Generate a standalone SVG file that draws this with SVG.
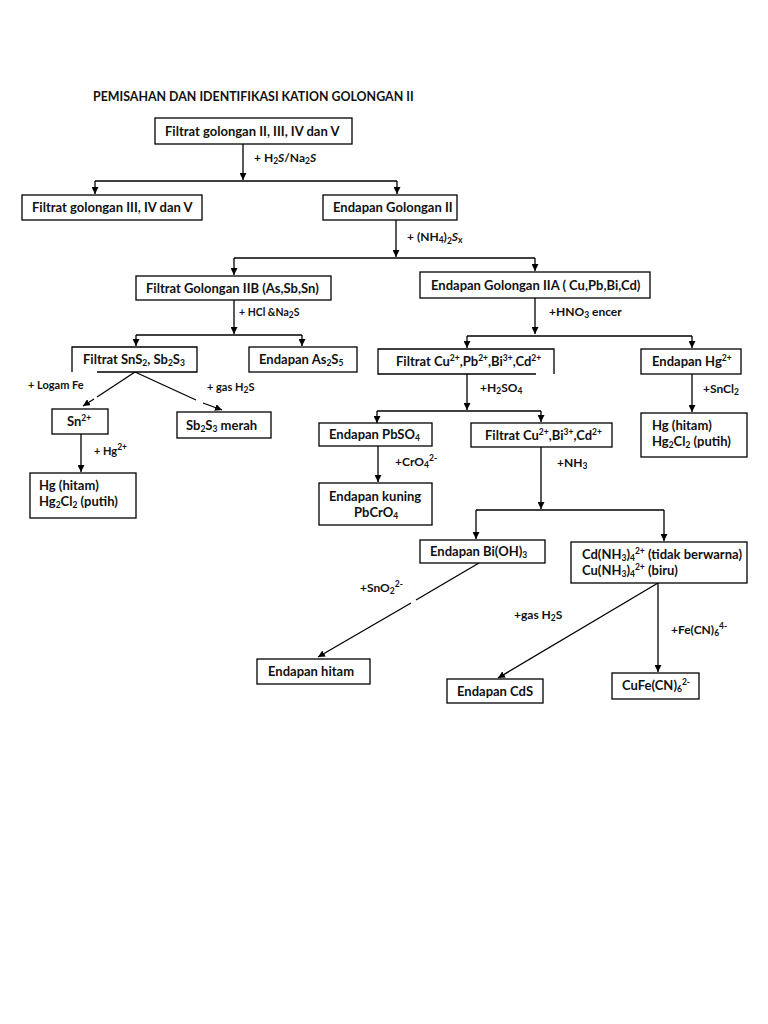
<svg xmlns="http://www.w3.org/2000/svg" width="768" height="1024" viewBox="0 0 768 1024">
<defs>
<marker id="ah" viewBox="0 0 10 10" refX="10" refY="5" markerWidth="7" markerHeight="7" markerUnits="userSpaceOnUse" orient="auto">
<path d="M0,0 L10,5 L0,10 z" fill="#000"/>
</marker>
<style>
.bx{fill:#fff;stroke:#000;stroke-width:1.3}
.ln{fill:none;stroke:#000;stroke-width:1.3}
.ar{fill:none;stroke:#000;stroke-width:1.3;marker-end:url(#ah)}
text{font-family:Lato,"Open Sans","Liberation Sans",sans-serif;font-size:13px;font-weight:bold;fill:#111}
.t{font-size:12.4px}
.l{font-size:12px}
.s{font-size:11px}
.xs{font-size:10.5px}
.sb{font-size:8.5px}
.it{font-style:italic}
</style>
</defs>
<rect width="768" height="1024" fill="#fff"/>
<text id="title" x="93" y="101" class="t">PEMISAHAN DAN IDENTIFIKASI KATION GOLONGAN II</text>

<g id="connectors">
<path class="ar" d="M243,144 V180"/>
<path class="ln" d="M95,181 H397"/>
<path class="ar" d="M95,181 V194"/>
<path class="ar" d="M397,181 V194"/>
<path class="ar" d="M396,220 V257"/>
<path class="ln" d="M234,258 H535"/>
<path class="ar" d="M234,258 V275"/>
<path class="ar" d="M535,258 V271"/>
<path class="ar" d="M234,300 V334"/>
<path class="ln" d="M136,335 H302"/>
<path class="ar" d="M136,335 V346"/>
<path class="ar" d="M302,335 V346"/>
<path class="ar" d="M535,298 V334"/>
<path class="ln" d="M467,336 H692"/>
<path class="ar" d="M467,336 V348"/>
<path class="ar" d="M692,336 V348"/>
<path class="ln" d="M135,372 L97,397"/>
<path class="ar" d="M94,399 L83,406"/>
<path class="ln" d="M135,372 L196,400"/>
<path class="ar" d="M203,403 L222,410"/>
<path class="ar" d="M81,434 V472"/>
<path class="ar" d="M467,374 V410"/>
<path class="ln" d="M377,411 H541"/>
<path class="ar" d="M377,411 V423"/>
<path class="ar" d="M541,411 V422"/>
<path class="ar" d="M692,374 V412"/>
<path class="ar" d="M378,446 V482"/>
<path class="ar" d="M541,447 V509"/>
<path class="ln" d="M476,510 H664"/>
<path class="ar" d="M476,510 V539"/>
<path class="ar" d="M664,510 V541"/>
<path class="ln" d="M479,563 L416,600"/>
<path class="ar" d="M411,603 L318,657"/>
<path class="ar" d="M658,583 L498,678"/>
<path class="ar" d="M658,583 V672"/>
</g>

<g id="n1"><rect class="bx" x="155" y="118" width="197" height="26"/><text x="165" y="135.5">Filtrat golongan II, III, IV dan V</text></g>
<g id="l1"><text x="254" y="162" class="l">+ H<tspan class="sb" baseline-shift="-2">2</tspan><tspan class="it">S</tspan>/Na<tspan class="sb" baseline-shift="-2">2</tspan><tspan class="it">S</tspan></text></g>
<g id="n2"><rect class="bx" x="22" y="195" width="180" height="25"/><text x="32" y="212">Filtrat golongan III, IV dan V</text></g>
<g id="n3"><rect class="bx" x="323" y="195" width="134" height="25"/><text x="333" y="212">Endapan Golongan II</text></g>
<g id="l2"><text x="407" y="241" class="l">+ (NH<tspan class="sb" baseline-shift="-2">4</tspan>)<tspan class="sb" baseline-shift="-3">2</tspan><tspan class="it">S</tspan><tspan class="sb" baseline-shift="-2">x</tspan></text></g>
<g id="n4"><rect class="bx" x="136" y="276" width="195" height="24"/><text x="146" y="292.5">Filtrat Golongan IIB (As,Sb,Sn)</text></g>
<g id="n5"><rect class="bx" x="420" y="272" width="230" height="26"/><text x="431" y="289.5">Endapan Golongan IIA ( Cu,Pb,Bi,Cd)</text></g>
<g id="l3"><text x="239" y="316" class="xs">+ HCl &amp;Na<tspan class="sb" baseline-shift="-2">2</tspan>S</text></g>
<g id="l4"><text x="549" y="316" class="l">+HNO<tspan class="sb" baseline-shift="-2">3</tspan> encer</text></g>
<g id="n6"><path class="bx" d="M97,372 H197 V347 H72 V372"/><text x="83" y="364">Filtrat SnS<tspan class="sb" baseline-shift="-2">2</tspan>, Sb<tspan class="sb" baseline-shift="-2">2</tspan>S<tspan class="sb" baseline-shift="-2">3</tspan></text></g>
<g id="n7"><rect class="bx" x="249" y="347" width="108" height="25"/><text x="259" y="364">Endapan As<tspan class="sb" baseline-shift="-2">2</tspan>S<tspan class="sb" baseline-shift="-2">5</tspan></text></g>
<g id="n8"><path class="bx" d="M536,374 H378 V349 H554 V374"/><text x="396" y="366">Filtrat Cu<tspan class="sb" baseline-shift="5">2+</tspan>,Pb<tspan class="sb" baseline-shift="5">2+</tspan>,Bi<tspan class="sb" baseline-shift="5">3+</tspan>,Cd<tspan class="sb" baseline-shift="5">2+</tspan></text></g>
<g id="n9"><rect class="bx" x="641" y="349" width="100" height="25"/><text x="652" y="366">Endapan Hg<tspan class="sb" baseline-shift="5">2+</tspan></text></g>
<g id="l5"><text x="28" y="389" class="s">+ Logam Fe</text></g>
<g id="l6"><text x="207" y="391" class="s">+ gas H<tspan class="sb" baseline-shift="-2">2</tspan>S</text></g>
<g id="l7"><text x="480" y="392" class="l">+H<tspan class="sb" baseline-shift="-2">2</tspan>SO<tspan class="sb" baseline-shift="-2">4</tspan></text></g>
<g id="l8"><text x="703" y="393" class="l">+SnCl<tspan class="sb" baseline-shift="-2">2</tspan></text></g>
<g id="n10"><rect class="bx" x="52" y="409" width="56" height="25"/><text x="67" y="426">Sn<tspan class="sb" baseline-shift="5">2+</tspan></text></g>
<g id="n11"><rect class="bx" x="177" y="412" width="94" height="26"/><text x="186" y="429.5">Sb<tspan class="sb" baseline-shift="-2">2</tspan>S<tspan class="sb" baseline-shift="-2">3</tspan> merah</text></g>
<g id="n12"><rect class="bx" x="319" y="423" width="113" height="23"/><text x="329" y="439">Endapan PbSO<tspan class="sb" baseline-shift="-2">4</tspan></text></g>
<g id="n13"><rect class="bx" x="471" y="423" width="141" height="24"/><text x="485" y="440">Filtrat Cu<tspan class="sb" baseline-shift="5">2+</tspan>,Bi<tspan class="sb" baseline-shift="5">3+</tspan>,Cd<tspan class="sb" baseline-shift="5">2+</tspan></text></g>
<g id="n14"><rect class="bx" x="641" y="413" width="106" height="44"/><text x="652" y="430">Hg (hitam)</text><text x="652" y="446">Hg<tspan class="sb" baseline-shift="-2">2</tspan>Cl<tspan class="sb" baseline-shift="-2">2</tspan> (putih)</text></g>
<g id="l9"><text x="94" y="455" class="s">+ Hg<tspan class="sb" baseline-shift="5">2+</tspan></text></g>
<g id="l10"><text x="395" y="466" class="l">+CrO<tspan class="sb" baseline-shift="-2">4</tspan><tspan class="sb" baseline-shift="5">2-</tspan></text></g>
<g id="l11"><text x="557" y="467" class="l">+NH<tspan class="sb" baseline-shift="-2">3</tspan></text></g>
<g id="n15"><rect class="bx" x="30" y="473" width="106" height="45"/><text x="39" y="490">Hg (hitam)</text><text x="39" y="506">Hg<tspan class="sb" baseline-shift="-2">2</tspan>Cl<tspan class="sb" baseline-shift="-2">2</tspan> (putih)</text></g>
<g id="n16"><rect class="bx" x="319" y="483" width="113" height="42"/><text x="329" y="501">Endapan kuning</text><text x="354" y="517">PbCrO<tspan class="sb" baseline-shift="-2">4</tspan></text></g>
<g id="n17"><rect class="bx" x="420" y="540" width="125" height="23"/><text x="430" y="556">Endapan Bi(OH)<tspan class="sb" baseline-shift="-2">3</tspan></text></g>
<g id="n18"><rect class="bx" x="571" y="542" width="176" height="41"/><text x="582" y="559">Cd(NH<tspan class="sb" baseline-shift="-2">3</tspan>)<tspan class="sb" baseline-shift="-2">4</tspan><tspan class="sb" baseline-shift="5">2+</tspan> (tidak berwarna)</text><text x="582" y="575">Cu(NH<tspan class="sb" baseline-shift="-2">3</tspan>)<tspan class="sb" baseline-shift="-2">4</tspan><tspan class="sb" baseline-shift="5">2+</tspan> (biru)</text></g>
<g id="l12"><text x="360" y="592" class="l">+SnO<tspan class="sb" baseline-shift="-2">2</tspan><tspan class="sb" baseline-shift="5">2-</tspan></text></g>
<g id="l13"><text x="514" y="619" class="l">+gas H<tspan class="sb" baseline-shift="-2">2</tspan>S</text></g>
<g id="l14"><text x="671" y="634" class="l">+Fe(CN)<tspan class="sb" baseline-shift="-2">6</tspan><tspan class="sb" baseline-shift="5">4-</tspan></text></g>
<g id="n19"><rect class="bx" x="257" y="659" width="113" height="25"/><text x="268" y="676">Endapan hitam</text></g>
<g id="n20"><rect class="bx" x="447" y="679" width="96" height="24"/><text x="457" y="696">Endapan CdS</text></g>
<g id="n21"><rect class="bx" x="612" y="673" width="87" height="26"/><text x="622" y="690">CuFe(CN)<tspan class="sb" baseline-shift="-2">6</tspan><tspan class="sb" baseline-shift="5">2-</tspan></text></g>
</svg>
